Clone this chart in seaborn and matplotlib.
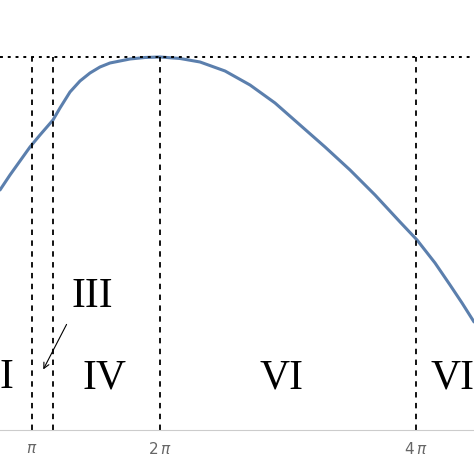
import numpy as np
import matplotlib
matplotlib.use('Agg')
import matplotlib.pyplot as plt
import seaborn as sns

# curve, pixel positions converted: x in units of pi, y arbitrary
px = [0, 10, 20, 30, 40, 53, 60, 70, 80, 90, 100, 110, 130, 145, 160, 180, 200, 225, 250, 275,
      300, 325, 350, 375, 400, 417, 435, 450, 462, 474]
py = [190, 175, 161, 147, 135, 120, 108, 92, 81, 73, 67, 63, 59, 57.5, 57, 58.5, 62, 71, 85, 103,
      125, 147, 170, 195, 222, 240, 263, 285, 303, 322]
x_pi = [(p + 96) / 128 for p in px]
y_val = [(430 - q) / 100 for q in py]
vlines_pi = [1.0, 1.164, 2.0, 4.0]
top_y = 3.73
regions = ['I', 'IV', 'VI', 'VII']
region_x = [0.80, 1.57, 2.95, 4.34]
tick_pos = [1, 2, 4]
tick_labels = [r'$\pi$', r'$2\,\pi$', r'$4\,\pi$']

sns.set_style('white')
fig, ax = plt.subplots(figsize=(4.74, 4.74), dpi=100)
fig.subplots_adjust(left=0, right=1, top=1, bottom=0.093)

sns.lineplot(x=x_pi, y=y_val, ax=ax, color='#5b7fad', linewidth=2.2)
ax.axhline(top_y, color='black', linestyle=(0, (1.5, 2.5)), linewidth=1.4)
for v in vlines_pi:
    ax.axvline(v, ymax=top_y / 4.30, color='black', linestyle=(0, (3, 3)), linewidth=1.3)

for name, xr in zip(regions, region_x):
    ax.text(xr, 0.52, name, fontsize=30, family='Liberation Serif', ha='center', va='center', color='black')
ax.text(1.47, 1.33, 'III', fontsize=30, family='Liberation Serif', ha='center', va='center', color='black')
ax.annotate('', xy=(1.078, 0.58), xytext=(1.28, 1.08),
            arrowprops=dict(arrowstyle='->', color='black', lw=0.8))

ax.set_xlim(0.75, 4.453)
ax.set_ylim(0, 4.30)
ax.set_xticks(tick_pos)
ax.set_xticklabels(tick_labels, color='#666666', fontsize=11)
ax.set_yticks([])
for s in ['top', 'left', 'right']:
    ax.spines[s].set_visible(False)
ax.spines['bottom'].set_color('#cccccc')
ax.tick_params(axis='x', length=0, pad=8)
plt.savefig('out.png', dpi=100)
